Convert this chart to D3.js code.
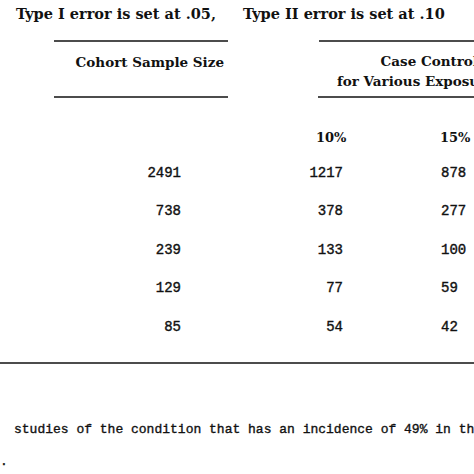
<!DOCTYPE html>
<html>
<head>
<meta charset="utf-8">
<script src="https://cdn.jsdelivr.net/npm/d3@7"></script>
<style>
  body { margin: 0; background: #fff; }
  svg { display: block; }
</style>
</head>
<body>
<script>
// table values
const columns = ["cohort", "p10", "p15"];
const exposureLabels = ["10%", "15%"];
const cohortSizes = [2491, 738, 239, 129, 85];
const caseControl10 = [1217, 378, 133, 77, 54];
const caseControl15 = [878, 277, 100, 59, 42];

const W = 474, H = 474;
const svg = d3.select("body").append("svg").attr("width", W).attr("height", H);

const serif = "'DejaVu Serif', 'Liberation Serif', serif";
const mono = "'Liberation Mono', 'DejaVu Sans Mono', monospace";
const ink = "#111";

// column anchors (right edge for first two, left edge for the 15% one)
const x = d3.scaleOrdinal().domain(columns).range([181, 343, 441]);
const y = d3.scalePoint().domain(d3.range(cohortSizes.length)).range([173, 327]);

const title = (t, xx) => svg.append("text").attr("x", xx).attr("y", 15)
  .attr("font-family", serif).attr("font-weight", "bold").attr("font-size", 14.5)
  .attr("fill", ink).attr("dominant-baseline", "middle").text(t);
title("Type I error is set at .05,", 16);
title("Type II error is set at .10", 243);

const rule = (x1, x2, yy) => svg.append("line")
  .attr("x1", x1).attr("x2", x2).attr("y1", yy).attr("y2", yy)
  .attr("stroke", ink).attr("stroke-width", 1.6);
rule(54, 228, 41); rule(54, 228, 97);
rule(319, 474, 41); rule(318, 474, 97);
rule(0, 474, 363);

const head = (t, xx, yy, anchor) => svg.append("text").attr("x", xx).attr("y", yy)
  .attr("text-anchor", anchor).attr("dominant-baseline", "middle")
  .attr("font-family", serif).attr("font-weight", "bold").attr("font-size", 13.5)
  .attr("fill", ink).text(t);
head("Cohort Sample Size", 224, 63, "end");
head("Case Control", 478, 62, "end");
head("for Various Exposures", 337, 82, "start");

svg.selectAll("text.exp").data(exposureLabels).join("text")
  .attr("class", "exp")
  .attr("x", (d, i) => [316, 440][i]).attr("y", 138)
  .attr("dominant-baseline", "middle")
  .attr("font-family", serif).attr("font-weight", "bold").attr("font-size", 13)
  .attr("fill", ink).text(d => d);

const series = [cohortSizes, caseControl10, caseControl15];
series.forEach((vals, c) => {
  svg.selectAll("text.c" + c).data(vals).join("text")
    .attr("class", "c" + c)
    .attr("x", x(columns[c]))
    .attr("y", (d, i) => y(i))
    .attr("text-anchor", c === 2 ? "start" : "end")
    .attr("dominant-baseline", "middle")
    .attr("font-family", mono).attr("font-size", 14)
    .attr("fill", ink).attr("stroke", ink).attr("stroke-width", 0.4)
    .text(d => d);
});

const note = (t, xx, yy) => svg.append("text").attr("x", xx).attr("y", yy)
  .attr("dominant-baseline", "middle")
  .attr("font-family", mono).attr("font-size", 13).attr("fill", ink)
  .attr("stroke", ink).attr("stroke-width", 0.35).text(t);
note("studies of the condition that has an incidence of 49% in the", 14, 430);
note(".", 0, 462);
</script>
</body>
</html>
